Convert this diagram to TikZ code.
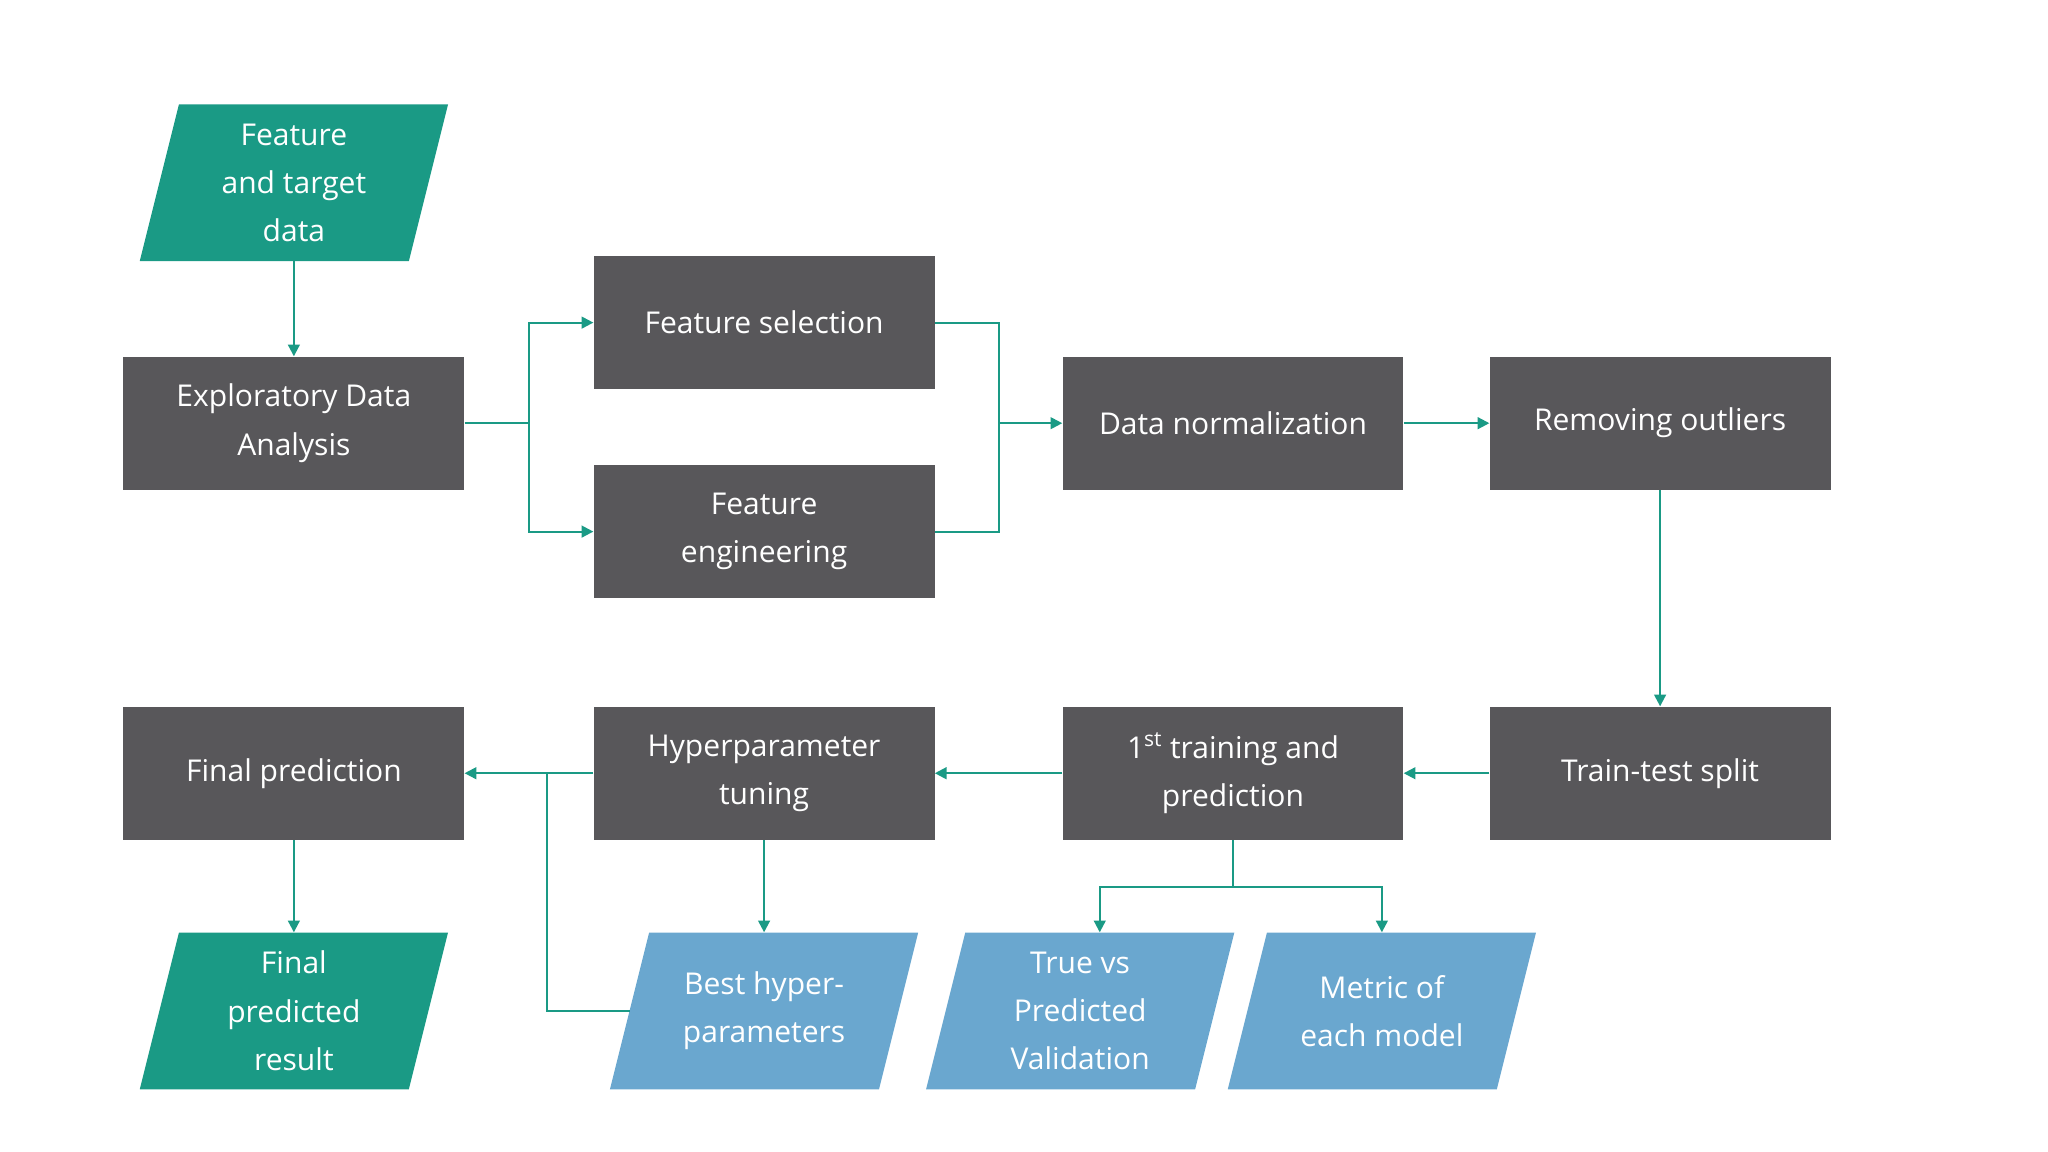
\documentclass[tikz,border=0pt]{standalone}
\usepackage{fontspec}
\setmainfont{Open Sans}
\usetikzlibrary{arrows.meta}
\definecolor{gbox}{HTML}{58575A}
\definecolor{teal}{HTML}{1A9A85}
\definecolor{lblue}{HTML}{6AA7CF}
\begin{document}
\begin{tikzpicture}[x=1pt,y=-1pt,
  box/.style={fill=gbox,draw=none,minimum width=261pt,minimum height=102pt,text=white,align=center,font=\fontsize{23}{37}\selectfont,inner sep=0pt},
  dat/.style={draw=none,minimum width=205pt,minimum height=120pt,text=white,align=center,font=\fontsize{23}{37}\selectfont,inner sep=0pt},
  con/.style={draw=teal,line width=1.6pt},
  arr/.style={con,-{Triangle[length=9pt,width=9pt]}}]
\useasboundingbox (0,0) rectangle (1568,882);
\newcommand{\para}[5]{%
  \fill[#4] (#2-88,#3-60) -- (#2+118,#3-60) -- (#2+88,#3+60) -- (#2-118,#3+60) -- cycle;
  \node[dat] (#1) at (#2,#3) {#5};}
\para{ftd}{225}{140}{teal}{Feature\\and target\\data}
\para{fpr}{225}{774}{teal}{Final\\predicted\\result}
\para{bhp}{585}{774}{lblue}{Best hyper-\\parameters}
\para{tvp}{827}{774}{lblue}{True vs\\Predicted\\Validation}
\para{mem}{1058}{774}{lblue}{Metric of\\each model}
\node[box] (eda) at (225,324) {Exploratory Data\\Analysis};
\node[box] (fs) at (585,247) {Feature selection};
\node[box] (fe) at (585,407) {Feature\\engineering};
\node[box] (dn) at (944,324) {Data normalization};
\node[box] (ro) at (1271,324) {Removing outliers};
\node[box] (tts) at (1271,592) {Train-test split};
\node[box] (tr) at (944,592) {1\textsuperscript{st} training and\\prediction};
\node[box] (ht) at (585,592) {Hyperparameter\\tuning};
\node[box] (fp) at (225,592) {Final prediction};
\coordinate (s1) at (405,324);
\coordinate (s2) at (765,324);
\coordinate (s3) at (944,679);
\coordinate (s4) at (419,592);
\draw[arr] (ftd.south) -- (eda.north);
\draw[con] (eda.east) -- (s1);
\draw[arr] (s1) |- (fs.west);
\draw[arr] (s1) |- (fe.west);
\draw[con] (fs.east) -| (s2);
\draw[con] (fe.east) -| (s2);
\draw[arr] (s2) -- (dn.west);
\draw[arr] (dn) -- (ro);
\draw[arr] (ro) -- (tts);
\draw[arr] (tts) -- (tr);
\draw[arr] (tr) -- (ht);
\draw[arr] (ht) -- (fp);
\draw[arr] (fp) -- (fpr);
\draw[arr] (ht) -- (bhp);
\draw[con] (tr.south) -- (s3);
\draw[arr] (s3) -| ([xshift=15pt]tvp.north);
\draw[arr] (s3) -| (mem.north);
\draw[con] (bhp.west) -| (s4);
\end{tikzpicture}
\end{document}
